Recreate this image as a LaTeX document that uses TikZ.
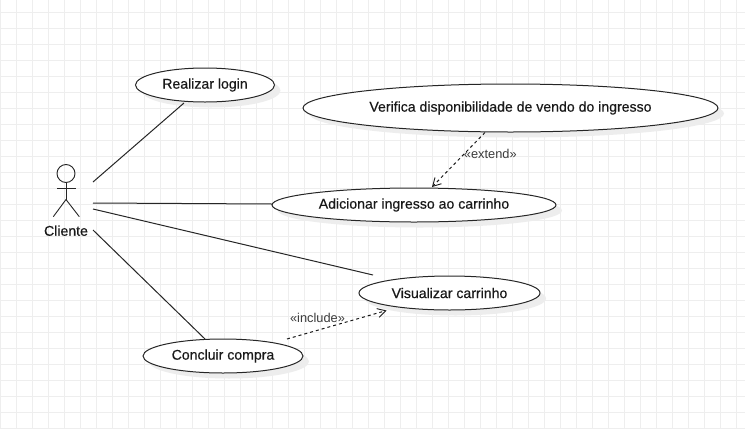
\documentclass[tikz,border=0pt]{standalone}
\usepackage{fontspec}
\setmainfont{Liberation Sans}
\usetikzlibrary{arrows.meta}
\definecolor{gridc}{HTML}{EEEEEE}
\definecolor{shadowc}{HTML}{EDEDED}
\definecolor{labelc}{HTML}{3C3C3C}
\tikzset{
  uclabel/.style={font=\fontsize{14.1}{16}\selectfont\addfontfeature{FakeBold=0.45},text=black!90,inner sep=0pt},
  assoc/.style={draw=black!85,line width=1pt},
  dep/.style={draw=black!90,line width=1pt,dash pattern=on 3pt off 3pt,-{Straight Barb[length=8pt,width=9pt,line width=0.9pt]}},
  steretype/.style={font=\fontsize{12.8}{14}\selectfont,text=labelc,inner sep=0pt}
}
\newcommand{\usecaseat}[6]{% name, cx, cy, rx, ry, text
  \fill[shadowc] (#2+6,#3+5.5) ellipse [x radius=#4,y radius=#5];
  \draw[draw=black!85,line width=1pt,fill=white] (#2,#3) ellipse [x radius=#4,y radius=#5];
  \node[uclabel] (#1) at (#2,#3) {#6};
}
\begin{document}
\begin{tikzpicture}[x=1pt,y=-1pt]
\useasboundingbox (0,0) rectangle (745,429);
\fill[white] (0,0) rectangle (745,429);
\foreach \i in {0,...,46} \draw[gridc,line width=1pt] (16*\i+0.7,0) -- (16*\i+0.7,429);
\foreach \j in {0,...,26} \draw[gridc,line width=1pt] (0,16*\j+12.7) -- (745,16*\j+12.7);
\usecaseat{login}{205}{85}{69.5}{17}{Realizar login}
\usecaseat{verif}{510.5}{108}{207.5}{24}{Verifica disponibilidade de vendo do ingresso}
\usecaseat{add}{414}{205}{142}{17}{Adicionar ingresso ao carrinho}
\usecaseat{view}{449.5}{293}{90.5}{17}{Visualizar carrinho}
\usecaseat{buy}{223}{356}{80}{17}{Concluir compra}
% actor
\draw[assoc,line width=0.9pt] (66,173.5) circle [radius=9];
\draw[assoc,line width=0.9pt] (66,182.5) -- (66,199.5);
\draw[assoc,line width=0.9pt] (57.3,188.7) -- (76,188.7);
\draw[assoc,line width=0.9pt] (53.3,216.7) -- (66,199.5) -- (79.3,216.7);
\node[uclabel] (actor) at (66,230.7) {Cliente};
\coordinate (a1) at (93,182);
\coordinate (a2) at (93,203);
\coordinate (a3) at (93,209);
\coordinate (a4) at (93,230);
\coordinate (e1) at (184,103);
\coordinate (e2) at (272,204);
\coordinate (e3) at (373,275);
\coordinate (e4) at (205,339);
\draw[assoc] (a1) -- (e1);
\draw[assoc] (a2) -- (e2);
\draw[assoc] (a3) -- (e3);
\draw[assoc] (a4) -- (e4);
\coordinate (d1) at (485,132.5);
\coordinate (d2) at (432,187);
\coordinate (d3) at (287,339);
\coordinate (d4) at (386.5,310.5);
\draw[dep] (d1) -- (d2);
\draw[dep] (d3) -- (d4);
\node[steretype] (ext) at (490.3,153.5) {«extend»};
\node[steretype] (inc) at (317.5,318) {«include»};
\end{tikzpicture}
\end{document}
